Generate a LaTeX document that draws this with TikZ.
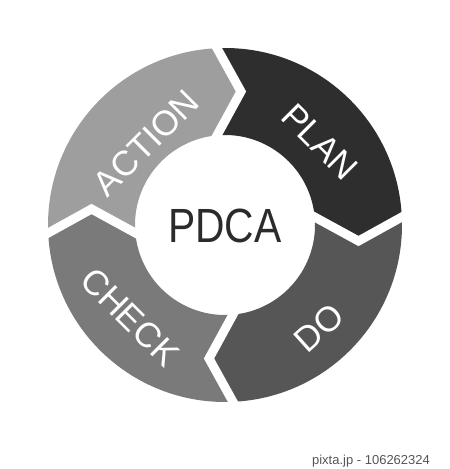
\documentclass[tikz,border=0pt]{standalone}
\usepackage{fontspec}
\setmainfont{Liberation Sans}
\newfontfamily\pdcafont[FakeStretch=0.85]{Liberation Sans}
\usepackage{tikz}

\definecolor{plancol}{HTML}{2E2E2E}
\definecolor{docol}{HTML}{565656}
\definecolor{checkcol}{HTML}{7A7A7A}
\definecolor{actcol}{HTML}{9E9E9E}
\definecolor{pdcatext}{HTML}{2B2B2B}
\definecolor{marktext}{HTML}{555555}

\begin{document}
\begin{tikzpicture}[x=1pt,y=1pt,
    stagetext/.style={text=white,inner sep=0pt,font=\fontsize{35}{35}\selectfont},
    gapline/.style={white,line width=9pt}]
   \useasboundingbox (-225,-244) rectangle (225,225);
   % ring segments, PLAN first, then clockwise
   \foreach \k/\c in {0/plancol,1/docol,2/checkcol,3/actcol} {
     \begin{scope}[rotate=-90*\k]
       \fill[\c] (92.59:177) arc[start angle=92.59,end angle=2.59,radius=177]
         -- (133.5,-16) -- (5.1:90) arc[start angle=5.1,end angle=95.1,radius=90]
         -- (16,133.5) -- cycle;
     \end{scope}
   }
   % white chevron gaps
   \foreach \k in {0,...,3}
     \draw[gapline,rotate=-90*\k] (-12.8,185.5) -- (16,133.5) -- (-12.8,80.8);
   \node[stagetext,rotate=-45] (plan)   at (95,83)   {PLAN};
   \node[stagetext,rotate=42]  (do)     at (94,-103) {DO};
   \node[stagetext,rotate=-45] (check)  at (-95,-92) {CHECK};
   \node[stagetext,rotate=45]  (action) at (-79,82)  {ACTION};
   \node[text=pdcatext,inner sep=0pt,font=\pdcafont\fontsize{48}{48}\selectfont] (pdca) at (0,-1) {PDCA};
   \node[text=marktext,inner sep=0pt,font=\fontsize{13}{13}\selectfont] (mark) at (146,-236) {pixta.jp - 106262324};
\end{tikzpicture}
\end{document}
